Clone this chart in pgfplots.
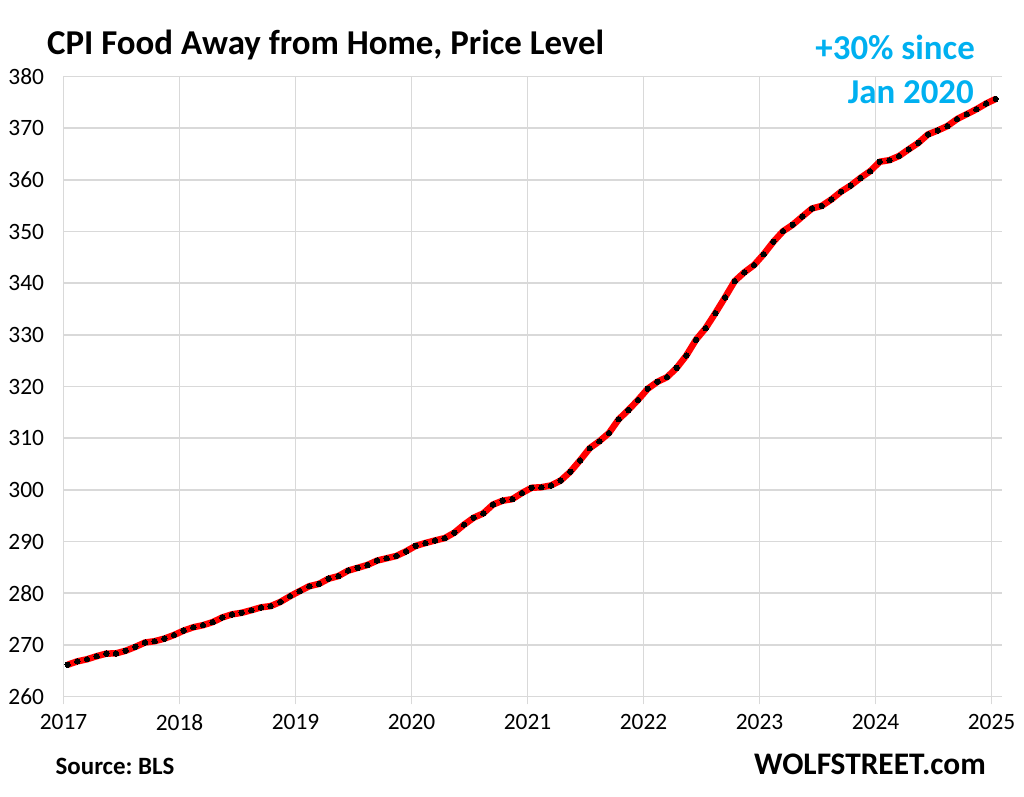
\documentclass[border=0pt]{standalone}
\usepackage{fontspec}
\setmainfont{Carlito}
\usepackage{pgfplots}
\pgfplotsset{compat=1.18}
\usepackage{pgfplotstable}
\definecolor{gridgray}{HTML}{D9D9D9}
\definecolor{annot}{HTML}{00B0F0}
\pgfplotstableread{
m v
0 266.15
1 266.8
2 267.2
3 267.8
4 268.3
5 268.35
6 268.85
7 269.6
8 270.45
9 270.7
10 271.2
11 271.9
12 272.75
13 273.4
14 273.8
15 274.4
16 275.3
17 275.9
18 276.2
19 276.7
20 277.25
21 277.5
22 278.3
23 279.4
24 280.4
25 281.35
26 281.8
27 282.8
28 283.3
29 284.35
30 284.9
31 285.45
32 286.3
33 286.75
34 287.2
35 288.1
36 289.15
37 289.7
38 290.2
39 290.65
40 291.7
41 293.25
42 294.6
43 295.45
44 297.15
45 297.9
46 298.2
47 299.4
48 300.4
49 300.5
50 300.85
51 301.8
52 303.5
53 305.7
54 308.05
55 309.4
56 311.0
57 313.65
58 315.45
59 317.4
60 319.55
61 320.9
62 321.8
63 323.6
64 326.0
65 329.05
66 331.3
67 334.2
68 337.25
69 340.4
70 342.1
71 343.5
72 345.6
73 348.0
74 350.05
75 351.3
76 352.9
77 354.45
78 354.95
79 356.2
80 357.7
81 358.9
82 360.35
83 361.65
84 363.5
85 363.8
86 364.6
87 365.9
88 367.15
89 368.8
90 369.55
91 370.4
92 371.75
93 372.7
94 373.65
95 374.75
96 375.65
}\cpidata
\frenchspacing
\begin{document}
\begin{tikzpicture}[x=1bp,y=1bp]
\path[use as bounding box] (0,0) rectangle (1024,797);
\begin{axis}[
  at={(63.5bp,100.5bp)}, anchor=south west,
  scale only axis, width=938bp, height=620bp,
  xmin=2017, xmax=2025.086, ymin=260, ymax=380,
  xtick={2017,2018,...,2025}, ytick={260,270,...,380},
  grid=major, major grid style={gridgray, line width=1.5bp},
  axis line style={draw=none},
  tick align=outside, xtick pos=lower, ytick pos=lower,
  major tick length=8bp,
  xtick style={gridgray, line width=1.5bp},
  ytick style={draw=none},
  ticklabel style={font=\fontsize{23.5}{28}\selectfont, text=black},
  xticklabel style={yshift=-6.5bp},
  yticklabel style={xshift=-8bp},
  /pgf/number format/assume math mode=true,
  /pgf/number format/set thousands separator={},
]
\addplot[red, line width=6.5bp, line join=round, mark=*, mark size=2.7bp,
  mark options={black, fill=black, line width=0pt}]
  table[x expr={2017.036+\thisrow{m}/12}, y=v] {\cpidata};
\end{axis}
\node[anchor=base west, inner sep=0, font=\fontsize{35}{40}\selectfont\bfseries] at (47,742) {CPI Food Away from Home, Price Level};
\node[anchor=base east, inner sep=0, text=annot, font=\fontsize{35}{40}\selectfont\bfseries] at (975,737) {+30\% since};
\node[anchor=base east, inner sep=0, text=annot, font=\fontsize{35}{40}\selectfont\bfseries] at (974,693.7) {Jan 2020};
\node[anchor=base west, inner sep=0, font=\fontsize{25}{30}\selectfont\bfseries] at (55.5,22) {Source: BLS};
\node[anchor=base west, inner sep=0, font=\fontsize{31.5}{36}\selectfont\bfseries] at (754,22) {WOLFSTREET.com};
\end{tikzpicture}
\end{document}
